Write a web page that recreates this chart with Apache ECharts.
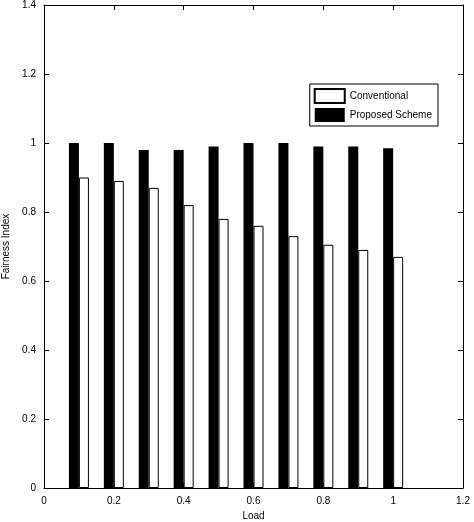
<!DOCTYPE html>
<html><head><meta charset="utf-8">
<script src="https://cdn.jsdelivr.net/npm/echarts@6/dist/echarts.min.js"></script>
<style>html,body{margin:0;background:#fff}#c{width:474px;height:522px}</style>
</head><body><div id="c"></div>
<script>
var loads = [0.1, 0.2, 0.3, 0.4, 0.5, 0.6, 0.7, 0.8, 0.9, 1.0];
var conventional = [0.9, 0.89, 0.87, 0.82, 0.78, 0.76, 0.73, 0.705, 0.69, 0.67];
var proposed = [1.0, 1.0, 0.98, 0.98, 0.99, 1.0, 1.0, 0.99, 0.99, 0.985];

var chart = echarts.init(document.getElementById('c'));
function fmt(v) { return v === 1 ? '1' : v === 0 ? '0' : v.toFixed(1); }
function axis(extra) {
    return Object.assign({
        type: 'value', interval: 0.2, min: 0,
        axisLine: {onZero: false, lineStyle: {color: '#000'}},
        axisTick: {inside: true, lineStyle: {color: '#000'}},
        axisLabel: {color: '#000', fontSize: 10, fontFamily: 'Liberation Sans', formatter: fmt},
        nameTextStyle: {color: '#000', fontSize: 10, fontFamily: 'Liberation Sans'},
        splitLine: {show: false}
    }, extra);
}
chart.setOption({
    animation: false,
    grid: {left: 44, right: 11, top: 5, bottom: 34, containLabel: false, outerBoundsMode: 'none'},
    xAxis: [
        axis({max: 1.2, name: 'Load', nameLocation: 'middle', nameGap: 18}),
        axis({max: 1.2, position: 'top', axisLabel: {show: false}})
    ],
    yAxis: [
        axis({max: 1.4, name: 'Fairness Index', nameLocation: 'middle', nameGap: 30}),
        axis({max: 1.4, position: 'right', axisLabel: {show: false}})
    ],
    legend: {
        right: 36, top: 84, orient: 'vertical', itemWidth: 30, itemHeight: 14, itemGap: 4,
        borderColor: '#000', borderWidth: 1, padding: [4, 6, 4, 4], backgroundColor: '#fff',
        textStyle: {color: '#000', fontSize: 10, fontFamily: 'Liberation Sans'},
        data: [{name: 'Conventional', icon: 'rect'}, {name: 'Proposed Scheme', icon: 'rect'}]
    },
    series: [
        {name: 'Proposed Scheme', type: 'bar', barWidth: 10, barGap: '0%',
         itemStyle: {color: '#000'},
         data: loads.map(function (x, i) { return [x, proposed[i]]; })},
        {name: 'Conventional', type: 'bar', barWidth: 10, barGap: '0%',
         itemStyle: {color: '#fff', borderColor: '#000', borderWidth: 1},
         data: loads.map(function (x, i) { return [x, conventional[i]]; })}
    ]
});
</script></body></html>
